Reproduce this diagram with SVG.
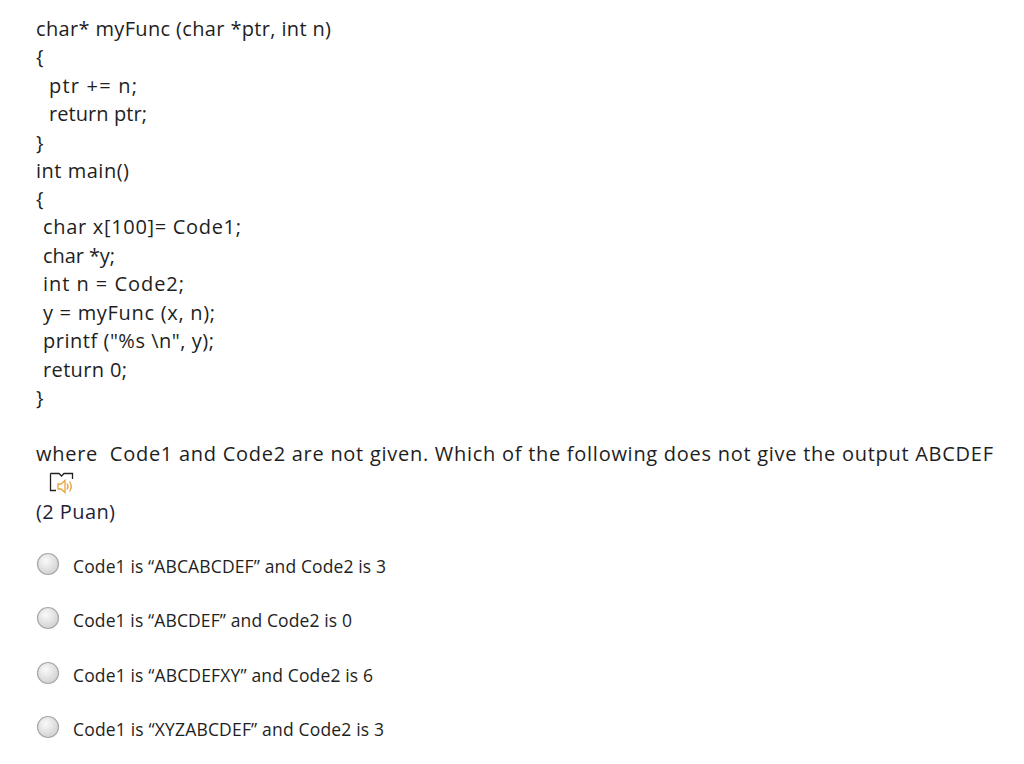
<svg xmlns="http://www.w3.org/2000/svg" width="1024" height="764" viewBox="0 0 1024 764">
<defs>
<radialGradient id="rg" cx="0.4" cy="0.35" r="0.7">
<stop offset="0" stop-color="#fafafa"/>
<stop offset="1" stop-color="#cfcfcf"/>
</radialGradient>
<style>
text{font-family:"Open Sans","Noto Sans","Liberation Sans",sans-serif;fill:#1e1e1e;}
.c{font-size:20px;}
.o{font-size:17.5px;}
.radio{fill:url(#rg);stroke:#a8a8a8;stroke-width:1.2;}
</style>
</defs>
<rect width="1024" height="764" fill="#fff"/>
<g id="code">
<text class="c" x="36" y="36" textLength="295" lengthAdjust="spacing">char* myFunc (char *ptr, int n)</text>
<text class="c" x="36" y="64.4">{</text>
<text class="c" x="49" y="92.8" textLength="88" lengthAdjust="spacing">ptr += n;</text>
<text class="c" x="49" y="121.2" textLength="98" lengthAdjust="spacing">return ptr;</text>
<text class="c" x="36" y="149.6">}</text>
<text class="c" x="36" y="178" textLength="93" lengthAdjust="spacing">int main()</text>
<text class="c" x="36" y="206.4">{</text>
<text class="c" x="43" y="234" textLength="198" lengthAdjust="spacing">char x[100]= Code1;</text>
<text class="c" x="43" y="262.5" textLength="72" lengthAdjust="spacing">char *y;</text>
<text class="c" x="43" y="291" textLength="141" lengthAdjust="spacing">int n = Code2;</text>
<text class="c" x="43" y="319.5" textLength="172" lengthAdjust="spacing">y = myFunc (x, n);</text>
<text class="c" x="43" y="348" textLength="171" lengthAdjust="spacing">printf ("%s \n", y);</text>
<text class="c" x="43" y="376.6" textLength="84" lengthAdjust="spacing">return 0;</text>
<text class="c" x="36" y="405">}</text>
</g>
<g id="question">
<text class="c" x="36" y="460.5" xml:space="preserve" textLength="957" lengthAdjust="spacing">where  Code1 and Code2 are not given. Which of the following does not give the output ABCDEF</text>
</g>
<g id="icon">
<path d="M50.5 473.5 V490.5 H56 M50.5 473.5 H59 L61.5 476 L64 473.5 H72.5 V479" fill="none" stroke="#222" stroke-width="1.3"/>
<path d="M58 484 H61 L65 480.5 V492.5 L61 489 H58 Z" fill="none" stroke="#e8a33a" stroke-width="1.3"/>
<path d="M67 483.5 Q69 486.5 67 489.5 M69.5 481.5 Q73 486.5 69.5 491.5" fill="none" stroke="#e8a33a" stroke-width="1.3"/>
</g>
<g id="points">
<text class="c" x="36" y="518.5" textLength="79" lengthAdjust="spacing" style="fill:#1f1f3a">(2 Puan)</text>
</g>
<g id="options">
<circle class="radio" cx="48" cy="564" r="10.5"/>
<text class="o" x="73" y="573" textLength="313" lengthAdjust="spacing">Code1 is “ABCABCDEF” and Code2 is 3</text>
<circle class="radio" cx="48" cy="618" r="10.5"/>
<text class="o" x="73" y="627" textLength="279" lengthAdjust="spacing">Code1 is “ABCDEF” and Code2 is 0</text>
<circle class="radio" cx="48" cy="673" r="10.5"/>
<text class="o" x="73" y="682" textLength="300" lengthAdjust="spacing">Code1 is “ABCDEFXY” and Code2 is 6</text>
<circle class="radio" cx="48" cy="727" r="10.5"/>
<text class="o" x="73" y="736" textLength="311" lengthAdjust="spacing">Code1 is “XYZABCDEF” and Code2 is 3</text>
</g>
</svg>
